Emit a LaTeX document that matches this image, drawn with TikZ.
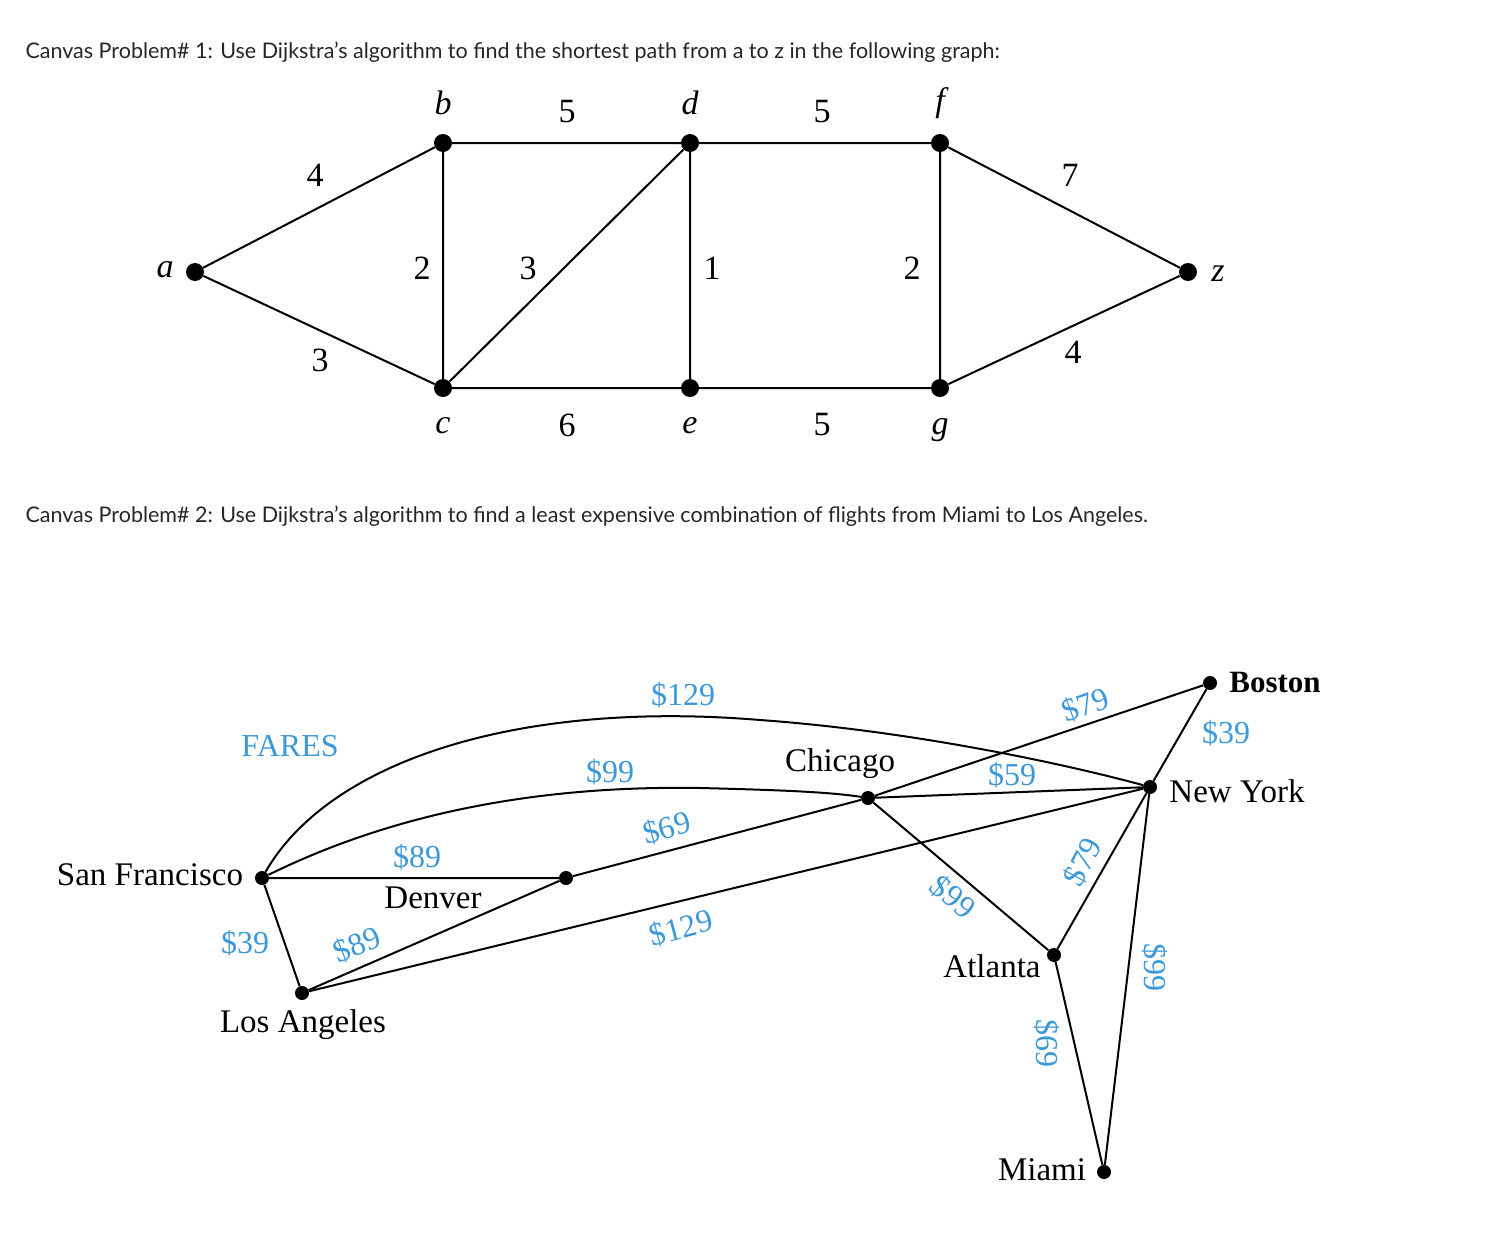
\documentclass[tikz,border=0pt]{standalone}
\usepackage{fontspec}
\setmainfont{Liberation Serif}
\newfontfamily\lato{Lato}
\begin{document}
\begin{tikzpicture}[x=1pt,y=-1pt,
  dot/.style={circle,fill=black,inner sep=0pt,minimum size=18pt},
  sdot/.style={circle,fill=black,inner sep=0pt,minimum size=14pt},
  w/.style={font=\fontsize{34}{34}\selectfont},
  lb/.style={font=\fontsize{34}{34}\selectfont\itshape},
  fare/.style={font=\fontsize{32}{32}\selectfont,text=cyan!70!blue!80},
  city/.style={font=\fontsize{33}{33}\selectfont},
  ttl/.style={font=\lato\fontsize{21.5}{21.5}\selectfont,anchor=west,text=black!85},
  e/.style={line width=2pt}]
\useasboundingbox (0,0) rectangle (1492,1242);
\node[ttl] (t1) at (22,52) {Canvas Problem\# 1: Use Dijkstra’s algorithm to find the shortest path from a to z in the following graph:};
\node[ttl] (t2) at (22,516) {Canvas Problem\# 2: Use Dijkstra’s algorithm to find a least expensive combination of flights from Miami to Los Angeles.};
% graph 1
\node[dot] (a) at (195,272) {};
\node[dot] (b) at (443,143) {};
\node[dot] (d) at (690,143) {};
\node[dot] (f) at (940,143) {};
\node[dot] (z) at (1188,272) {};
\node[dot] (c) at (443,388) {};
\node[dot] (e) at (690,388) {};
\node[dot] (g) at (940,388) {};
\draw[e] (a)--(b) (a)--(c) (b)--(d) (d)--(f) (f)--(z) (g)--(z) (c)--(e) (e)--(g) (b)--(c) (c)--(d) (d)--(e) (f)--(g);
\node[lb] (la) at (165,270) {a};
\node[lb] (lbb) at (443,103) {b};
\node[lb] (ld) at (690,103) {d};
\node[lb] (lf) at (940,103) {f};
\node[lb] (lz) at (1218,274) {z};
\node[lb] (lc) at (443,426) {c};
\node[lb] (le) at (690,426) {e};
\node[lb] (lg) at (940,430) {g};
\node[w] (w1) at (315,175) {4};
\node[w] (w2) at (320,360) {3};
\node[w] (w3) at (422,268) {2};
\node[w] (w4) at (528,268) {3};
\node[w] (w5) at (712,268) {1};
\node[w] (w6) at (912,268) {2};
\node[w] (w7) at (1070,175) {7};
\node[w] (w8) at (1073,352) {4};
\node[w] (w9) at (567,112) {5};
\node[w] (w10) at (822,112) {5};
\node[w] (w11) at (567,425) {6};
\node[w] (w12) at (822,425) {5};
% graph 2
\node[sdot] (SF) at (262,878) {};
\node[sdot] (LA) at (302,993) {};
\node[sdot] (DE) at (566,878) {};
\node[sdot] (CH) at (868,798) {};
\node[sdot] (NY) at (1150,787) {};
\node[sdot] (BO) at (1210,683) {};
\node[sdot] (AT) at (1054,955) {};
\node[sdot] (MI) at (1104,1172) {};
\draw[e] (SF)--(LA) (SF)--(DE) (LA)--(DE) (DE)--(CH) (LA)--(NY) (CH)--(NY) (CH)--(AT) (CH)--(BO) (BO)--(NY) (NY)--(AT) (NY)--(MI) (AT)--(MI);
\draw[e] (SF) .. controls (330,760) and (520,700) .. (760,720) .. controls (900,730) and (1050,760) .. (NY);
\draw[e] (SF) .. controls (380,820) and (520,785) .. (700,788) .. controls (780,790) and (830,792) .. (CH);
\node[city] at (150,875) {San Francisco};
\node[city] at (303,1025) {Los Angeles};
\node[city] at (433,898) {Denver};
\node[city] at (840,764) {Chicago};
\node[city] at (1237,791) {New York};
\node[city,font=\fontsize{31}{31}\selectfont\bfseries] at (1275,682) {Boston};
\node[city] at (992,966) {Atlanta};
\node[city] at (1042,1170) {Miami};
\node[fare] at (290,746) {FARES};
\node[fare] at (683,695) {\$129};
\node[fare] at (610,772) {\$99};
\node[fare,rotate=15] at (667,828) {\$69};
\node[fare] at (417,857) {\$89};
\node[fare,rotate=22] at (357,945) {\$89};
\node[fare,rotate=15] at (681,928) {\$129};
\node[fare] at (245,943) {\$39};
\node[fare,rotate=20] at (1085,705) {\$79};
\node[fare] at (1012,775) {\$59};
\node[fare] at (1226,733) {\$39};
\node[fare,rotate=-40] at (953,897) {\$99};
\node[fare,rotate=62] at (1083,862) {\$79};
\node[fare,rotate=-90] at (1047,1043) {\$69};
\node[fare,rotate=-90] at (1155,967) {\$99};
\end{tikzpicture}
\end{document}
